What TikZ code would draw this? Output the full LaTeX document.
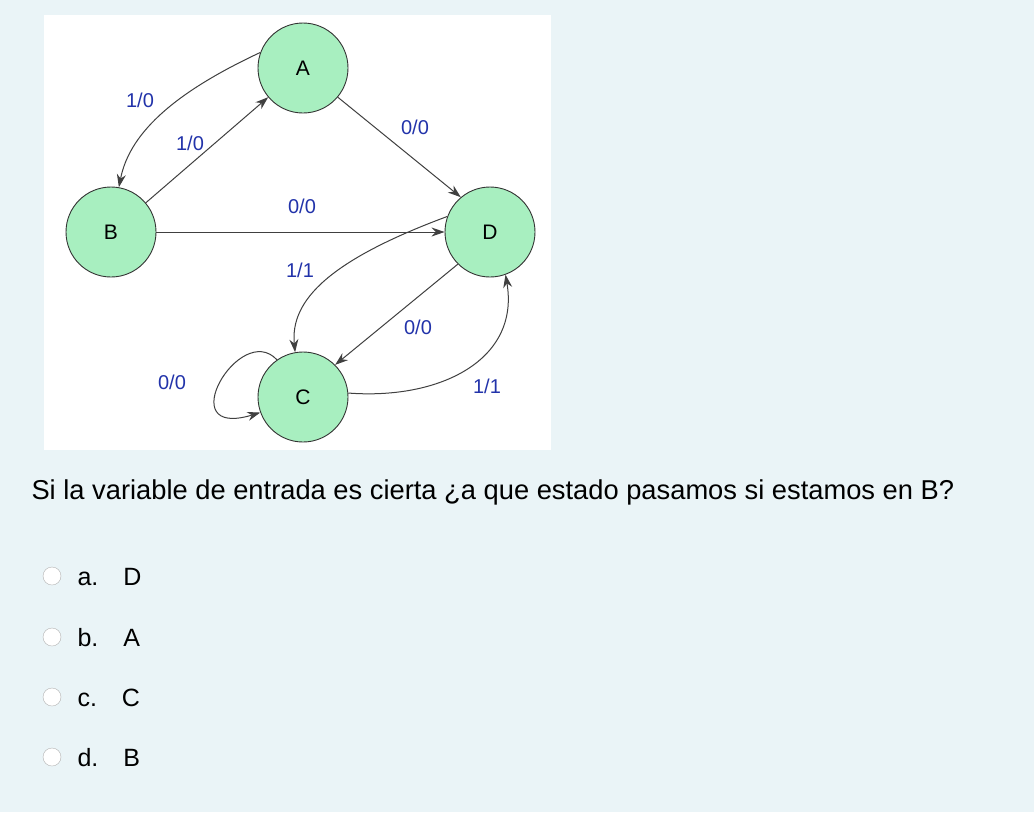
\documentclass[tikz,border=0pt]{standalone}
\usepackage{fontspec}
\setmainfont{Liberation Sans}
\usetikzlibrary{arrows.meta}
\definecolor{bgc}{HTML}{EAF4F7}
\definecolor{stc}{HTML}{A8EFC0}
\definecolor{lbc}{HTML}{2233AA}
\tikzset{
 st/.style={circle,draw=black!80,line width=0.9pt,fill=stc,minimum size=90pt,inner sep=0pt,font=\fontsize{21}{21}\selectfont},
 ed/.style={draw=black!75,line width=1pt,-{Stealth[length=13pt,width=9pt]}},
 lb/.style={text=lbc,font=\fontsize{20}{20}\selectfont},
 opt/.style={anchor=west,font=\fontsize{25}{25}\selectfont},
 radio/.style={circle,draw=black!30,fill=white,minimum size=18pt,inner sep=0pt}
}
\begin{document}
\begin{tikzpicture}[x=1pt,y=-1pt]
\useasboundingbox (0,0) rectangle (1034,812);
\fill[bgc] (0,0) rectangle (1034,812);
\fill[white] (44,15) rectangle (551,450);
\node[st] (A) at (303,68) {A};
\node[st] (B) at (111,232) {B};
\node[st] (D) at (490,232) {D};
\node[st] (C) at (303,397) {C};
\draw[ed] (A.160) .. controls (180,90) and (130,130) .. (B.80);
\draw[ed] (B.40) -- (A.220);
\draw[ed] (A.320) -- (D.130);
\draw[ed] (B.east) -- (D.west);
\draw[ed] (D.160) .. controls (330,260) and (290,300) .. (C.100);
\draw[ed] (D.225) -- (C.45);
\draw[ed] (C.5) .. controls (440,400) and (520,360) .. (D.290);
\draw[ed] (C.125) .. controls (240,320) and (170,440) .. (C.200);
\node[lb] (l1) at (140,100) {1/0};
\node[lb] (l2) at (190,143) {1/0};
\node[lb] (l3) at (415,127) {0/0};
\node[lb] (l4) at (302,206) {0/0};
\node[lb] (l5) at (300,270) {1/1};
\node[lb] (l6) at (418,327) {0/0};
\node[lb] (l7) at (487,386) {1/1};
\node[lb] (l8) at (172,382) {0/0};
\node[anchor=west,font=\fontsize{27.3}{27}\selectfont] (q) at (28,492) {Si la variable de entrada es cierta ¿a que estado pasamos si estamos en B?};
\node[radio] (r1) at (52,576) {}; \node[opt] (o1) at (74,577) {a.\quad D};
\node[radio] (r2) at (52,637) {}; \node[opt] (o2) at (74,638) {b.\quad A};
\node[radio] (r3) at (52,697) {}; \node[opt] (o3) at (74,698) {c.\quad C};
\node[radio] (r4) at (52,757) {}; \node[opt] (o4) at (74,758) {d.\quad B};
\end{tikzpicture}
\end{document}
